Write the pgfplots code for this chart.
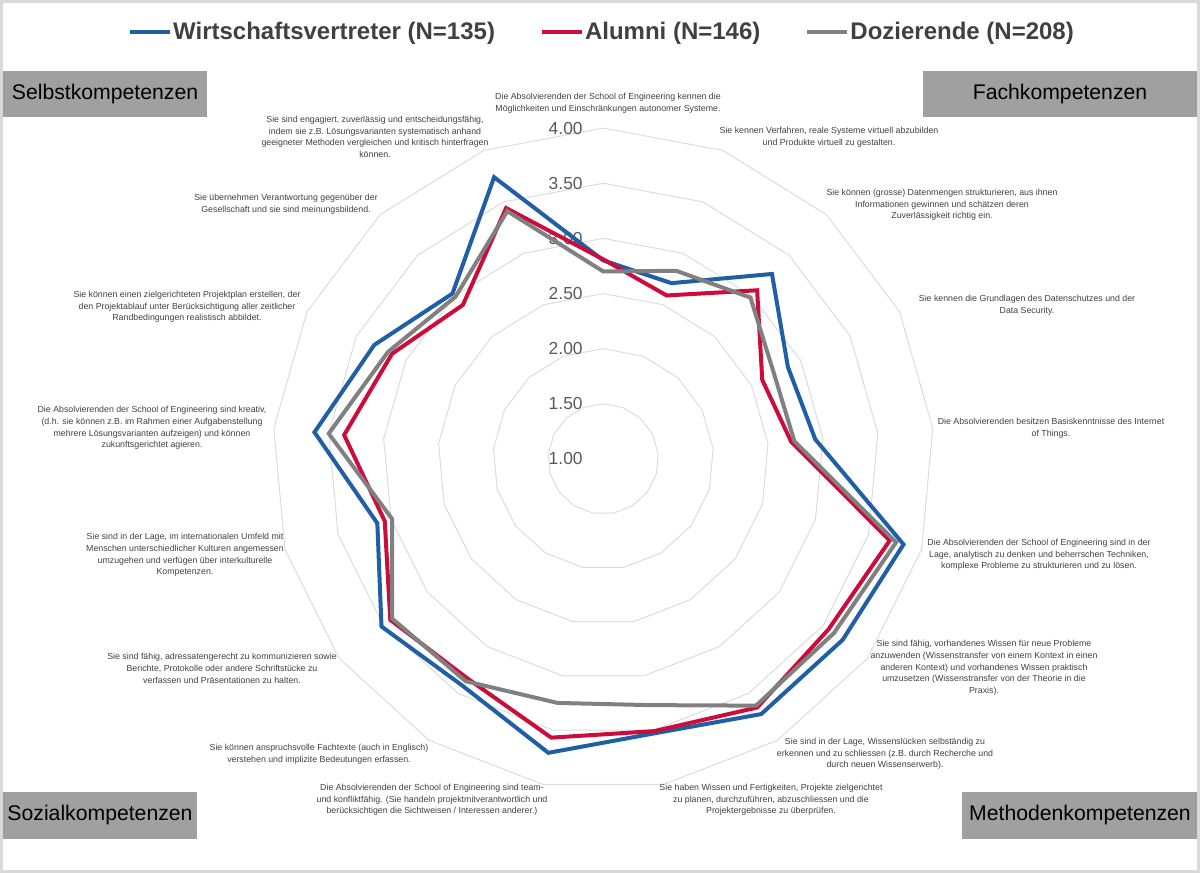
\documentclass[border=0pt]{standalone}
\usepackage{fontspec}
\setmainfont{Liberation Sans}
\usepackage{pgfplots}
\usepackage{pgfplotstable}
\pgfplotsset{compat=1.18}

\definecolor{wv}{RGB}{32,94,166}
\definecolor{al}{RGB}{204,12,58}
\definecolor{dz}{RGB}{128,128,128}
\definecolor{gridc}{RGB}{220,220,222}
\definecolor{boxc}{RGB}{160,160,160}
\definecolor{framec}{RGB}{217,217,217}
\definecolor{labc}{RGB}{64,64,64}
\definecolor{tickc}{RGB}{89,89,89}

\tikzset{
  lab/.style={align=center, font=\fontsize{4.4}{5.85}\selectfont, text=labc, inner sep=0pt},
  box/.style={font=\fontsize{10.6}{12}\selectfont, text=black, inner sep=0pt},
}

% a = direction of the spoke (deg), then one mean rating per group
\pgfplotstableread{
a          wv    al    dz
90.0000    2.80  2.81  2.70
68.8235    2.71  2.59  2.83
47.6471    3.27  3.07  2.98
26.4706    2.87  2.61  2.73
5.2941     2.93  2.71  2.74
-15.8824   3.83  3.70  3.76
-37.0588   3.72  3.56  3.62
-58.2353   3.72  3.65  3.63
-79.4118   3.53  3.51  3.27
-100.5882  3.71  3.57  3.25
-121.7647  3.42  3.34  3.37
-142.9412  3.52  3.42  3.40
-164.1176  3.13  3.06  2.99
-185.2941  3.63  3.36  3.50
-206.4706  3.32  3.14  3.18
-227.6471  3.03  2.89  2.99
-248.8235  3.74  3.44  3.41
}\ratings

% centre of the net in px and px per rating point
\def\cx{603.3}
\def\cy{459}
\def\u{110.3}

\begin{document}
\begin{tikzpicture}
\begin{axis}[
  width=600pt, height=436.5pt, scale only axis,
  xmin=0, xmax=1200, ymin=0, ymax=873, y dir=reverse,
  hide axis, clip=false,
  legend columns=3,
  legend style={at={(axis cs:601.5,32)}, anchor=center,
    draw=none, fill=none, inner sep=0pt,
    font=\fontsize{12}{14}\selectfont\bfseries, text=labc,
    nodes={inner sep=0.5pt},
    /tikz/every even column/.append style={column sep=22pt}},
  legend image code/.code={\draw[#1, line width=2pt] (0pt,0pt) -- (20pt,0pt);},
]

% polygon grid
\pgfplotsinvokeforeach{1.5,2,2.5,3,3.5,4}{
  \addplot[gridc, line width=0.5pt, forget plot]
    table[x expr={\cx+(#1-1)*\u*cos(\thisrow{a})},
          y expr={\cy-(#1-1)*\u*sin(\thisrow{a})}]{\ratings} -- cycle;
}

% radial value labels
\pgfplotsinvokeforeach{1.00,1.50,2.00,2.50,3.00,3.50,4.00}{
  \node[anchor=east, inner sep=0pt, text=tickc, font=\fontsize{8.7}{10}\selectfont]
    at (axis cs:583,{\cy-(#1-1)*\u}) {#1};
}

\addplot[wv, line width=2pt]
  table[x expr={\cx+(\thisrow{wv}-1)*\u*cos(\thisrow{a})},
        y expr={\cy-(\thisrow{wv}-1)*\u*sin(\thisrow{a})}]{\ratings} -- cycle;
\addlegendentry{Wirtschaftsvertreter (N=135)}
\addplot[al, line width=2pt]
  table[x expr={\cx+(\thisrow{al}-1)*\u*cos(\thisrow{a})},
        y expr={\cy-(\thisrow{al}-1)*\u*sin(\thisrow{a})}]{\ratings} -- cycle;
\addlegendentry{Alumni (N=146)}
\addplot[dz, line width=2pt]
  table[x expr={\cx+(\thisrow{dz}-1)*\u*cos(\thisrow{a})},
        y expr={\cy-(\thisrow{dz}-1)*\u*sin(\thisrow{a})}]{\ratings} -- cycle;
\addlegendentry{Dozierende (N=208)}

% spoke labels
\node[lab] at (axis cs:608,103) {Die Absolvierenden der School of Engineering kennen die\\Möglichkeiten und Einschränkungen autonomer Systeme.};
\node[lab] at (axis cs:829,137) {Sie kennen Verfahren, reale Systeme virtuell abzubilden\\und Produkte virtuell zu gestalten.};
\node[lab] at (axis cs:942,205) {Sie können (grosse) Datenmengen strukturieren, aus ihnen\\Informationen gewinnen und schätzen deren\\Zuverlässigkeit richtig ein.};
\node[lab] at (axis cs:1027,305.5) {Sie kennen die Grundlagen des Datenschutzes und der\\Data Security.};
\node[lab] at (axis cs:1051,428) {Die Absolvierenden besitzen Basiskenntnisse des Internet\\of Things.};
\node[lab] at (axis cs:1039,555) {Die Absolvierenden der School of Engineering sind in der\\Lage, analytisch zu denken und beherrschen Techniken,\\komplexe Probleme zu strukturieren und zu lösen.};
\node[lab] at (axis cs:984,668) {Sie sind fähig, vorhandenes Wissen für neue Probleme\\anzuwenden (Wissenstransfer von einem Kontext in einen\\anderen Kontext) und vorhandenes Wissen praktisch\\umzusetzen (Wissenstransfer von der Theorie in die\\Praxis).};
\node[lab] at (axis cs:885,754) {Sie sind in der Lage, Wissenslücken selbständig zu\\erkennen und zu schliessen (z.B. durch Recherche und\\durch neuen Wissenserwerb).};
\node[lab] at (axis cs:771,800) {Sie haben Wissen und Fertigkeiten, Projekte zielgerichtet\\zu planen, durchzuführen, abzuschliessen und die\\Projektergebnisse zu überprüfen.};
\node[lab] at (axis cs:432,800) {Die Absolvierenden der School of Engineering sind team-\\und konfliktfähig. (Sie handeln projektmitverantwortlich und\\berücksichtigen die Sichtweisen / Interessen anderer.)};
\node[lab] at (axis cs:319,754) {Sie können anspruchsvolle Fachtexte (auch in Englisch)\\verstehen und implizite Bedeutungen erfassen.};
\node[lab] at (axis cs:222,668.5) {Sie sind fähig, adressatengerecht zu kommunizieren sowie\\Berichte, Protokolle oder andere Schriftstücke zu\\verfassen und Präsentationen zu halten.};
\node[lab] at (axis cs:185,555) {Sie sind in der Lage, im internationalen Umfeld mit\\Menschen unterschiedlicher Kulturen angemessen\\umzugehen und verfügen über interkulturelle\\Kompetenzen.};
\node[lab] at (axis cs:152,428) {Die Absolvierenden der School of Engineering sind kreativ,\\(d.h. sie können z.B. im Rahmen einer Aufgabenstellung\\mehrere Lösungsvarianten aufzeigen) und können\\zukunftsgerichtet agieren.};
\node[lab] at (axis cs:187,307) {Sie können einen zielgerichteten Projektplan erstellen, der\\den Projektablauf unter Berücksichtigung aller zeitlicher\\Randbedingungen realistisch abbildet.};
\node[lab] at (axis cs:286,204) {Sie übernehmen Verantwortung gegenüber der\\Gesellschaft und sie sind meinungsbildend.};
\node[lab] at (axis cs:375,137) {Sie sind engagiert, zuverlässig und entscheidungsfähig,\\indem sie z.B. Lösungsvarianten systematisch anhand\\geeigneter Methoden vergleichen und kritisch hinterfragen\\können.};

% competence boxes
\fill[boxc] (axis cs:2,71) rectangle (axis cs:207,117);
\node[box] at (axis cs:105,94) {Selbstkompetenzen};
\fill[boxc] (axis cs:923,71) rectangle (axis cs:1198,117);
\node[box] at (axis cs:1060,94) {Fachkompetenzen};
\fill[boxc] (axis cs:2,792) rectangle (axis cs:197,839);
\node[box] at (axis cs:100,815.5) {Sozialkompetenzen};
\fill[boxc] (axis cs:962,792) rectangle (axis cs:1198,839);
\node[box] at (axis cs:1080,815.5) {Methodenkompetenzen};

% outer frame
\draw[framec, line width=1.5pt] (axis cs:1.5,1.5) rectangle (axis cs:1198.5,871.5);
\end{axis}
\pgfresetboundingbox
\path (0,0) rectangle (600pt,436.5pt);
\end{tikzpicture}
\end{document}
